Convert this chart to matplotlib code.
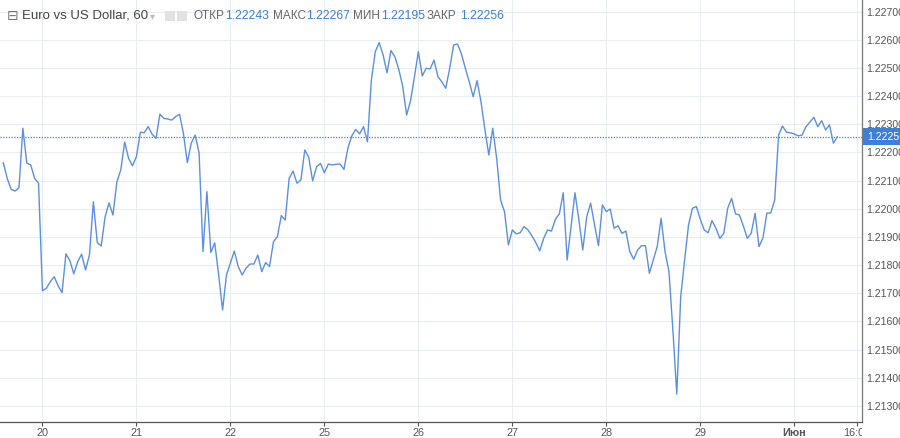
import matplotlib
matplotlib.use("Agg")
import matplotlib.pyplot as plt
import numpy as np
from matplotlib.patches import Rectangle
from matplotlib.transforms import blended_transform_factory

# hourly EURUSD closes (first bar is 14:00 on the 19th)
prices = [
    1.22164, 1.22108, 1.22069, 1.22063, 1.22075, 1.22286, 1.22162, 1.22156, 1.22108, 1.22091,
    1.21709, 1.21718, 1.21741, 1.21759, 1.21727, 1.21702, 1.21840, 1.21816, 1.21769, 1.21812,
    1.21839, 1.21783, 1.21836, 1.22025, 1.21880, 1.21868, 1.21971, 1.22021, 1.21978, 1.22095,
    1.22138, 1.22237, 1.22179, 1.22153, 1.22185, 1.22272, 1.22270, 1.22292, 1.22265, 1.22250,
    1.22336, 1.22321, 1.22319, 1.22315, 1.22327, 1.22336, 1.22268, 1.22164, 1.22233, 1.22262,
    1.22199, 1.21848, 1.22061, 1.21845, 1.21879, 1.21765, 1.21641, 1.21765, 1.21807, 1.21850,
    1.21795, 1.21765, 1.21789, 1.21804, 1.21804, 1.21836, 1.21777, 1.21809, 1.21795, 1.21883,
    1.21901, 1.21976, 1.21960, 1.22108, 1.22134, 1.22091, 1.22102, 1.22209, 1.22183, 1.22099,
    1.22149, 1.22161, 1.22128, 1.22159, 1.22156, 1.22158, 1.22159, 1.22140, 1.22215, 1.22259,
    1.22282, 1.22266, 1.22292, 1.22238, 1.22457, 1.22558, 1.22590, 1.22546, 1.22483, 1.22562,
    1.22540, 1.22495, 1.22436, 1.22333, 1.22383, 1.22469, 1.22558, 1.22472, 1.22499, 1.22497,
    1.22528, 1.22469, 1.22451, 1.22428, 1.22499, 1.22582, 1.22585, 1.22550, 1.22499, 1.22451,
    1.22398, 1.22455, 1.22380, 1.22280, 1.22191, 1.22286, 1.22179, 1.22031, 1.21990, 1.21872,
    1.21925, 1.21911, 1.21915, 1.21937, 1.21925, 1.21904, 1.21880, 1.21851, 1.21895, 1.21925,
    1.21921, 1.21963, 1.21982, 1.22057, 1.21818, 1.21939, 1.22057, 1.21960, 1.21854, 1.21972,
    1.22020, 1.21943, 1.21869, 1.22014, 1.21990, 1.21999, 1.21931, 1.21940, 1.21913, 1.21921,
    1.21848, 1.21821, 1.21854, 1.21869, 1.21869, 1.21771, 1.21818, 1.21866, 1.21966, 1.21848,
    1.21777, 1.21570, 1.21342, 1.21688, 1.21818, 1.21943, 1.22002, 1.22008, 1.21963, 1.21925,
    1.21915, 1.21958, 1.21931, 1.21895, 1.21913, 1.22002, 1.22037, 1.21982, 1.21978, 1.21939,
    1.21895, 1.21913, 1.21984, 1.21866, 1.21896, 1.21985, 1.21985, 1.22031, 1.22262, 1.22294,
    1.22272, 1.22270, 1.22266, 1.22259, 1.22262, 1.22292, 1.22308, 1.22325, 1.22292, 1.22313,
    1.22280, 1.22298, 1.22233, 1.22256,
]

last_price = 1.22256

# x axis: hour index of each label
tick_hours = [10, 34, 58, 82, 106, 130, 154, 178, 202, 218]
tick_labels = ["20", "21", "22", "25", "26", "27", "28", "29", "Июн", "16:00"]

# y axis
price_ticks = [1.213, 1.214, 1.215, 1.216, 1.217, 1.218, 1.219, 1.220,
               1.221, 1.222, 1.223, 1.224, 1.225, 1.226, 1.227]
price_labels = ["1.21300", "1.21400", "1.21500", "1.21600", "1.21700", "1.21800", "1.21900",
                "1.22000", "1.22100", "1.22200", "1.22300", "1.22400", "1.22500", "1.22600",
                "1.22700"]

# legend header
title = "Euro vs US Dollar, 60"
ohlc_names = ["ОТКР", "МАКС", "МИН", "ЗАКР"]
ohlc_values = ["1.22243", "1.22267", "1.22195", "1.22256"]

plt.rcParams["font.family"] = ["Liberation Sans", "DejaVu Sans"]

W, H = 900, 438
fig = plt.figure(figsize=(W / 100, H / 100), dpi=100)
fig.patch.set_facecolor("white")
ax = fig.add_axes([0, 16 / H, 862 / W, 422 / H])

x = np.arange(len(prices))
ax.plot(x, prices, color="#5b8fe3", lw=1.0, zorder=3)
ax.axhline(last_price, color="#3d7fd9", lw=0.9, ls=(0, (1, 1.2)), zorder=2)

ax.set_xlim(-0.84, 219.3)
ax.set_ylim(1.21243, 1.227415)

ax.set_xticks(tick_hours)
ax.set_xticklabels(tick_labels)
ax.set_yticks(price_ticks)
ax.set_yticklabels(price_labels)
ax.yaxis.tick_right()
ax.grid(True, color="#e9eef3", lw=0.8, zorder=0)

ax.tick_params(axis="x", length=3, width=0.8, color="#555555", pad=1,
               labelsize=7.8, labelcolor="#555555")
ax.tick_params(axis="y", length=0, pad=3.3, labelsize=7.6, labelcolor="#555555")
for lbl in ax.get_xticklabels():
    if lbl.get_text() == "Июн":
        lbl.set_fontweight("bold")
    if lbl.get_text() == "16:00":
        lbl.set_clip_on(True)
        lbl.set_clip_box(matplotlib.transforms.Bbox([[0, 0], [862, H]]))

for side in ["top", "left"]:
    ax.spines[side].set_visible(False)
ax.spines["bottom"].set_color("#555555")
ax.spines["right"].set_color("#777777")
ax.spines["bottom"].set_linewidth(0.9)
ax.spines["right"].set_linewidth(0.9)

# blue label with the last price on the scale
trans = blended_transform_factory(fig.transFigure, ax.transData)
ax.text(867 / W, last_price, ohlc_values[3], transform=trans, ha="left", va="center",
        fontsize=7.6, color="white", clip_on=False, zorder=5,
        bbox=dict(boxstyle="square,pad=0.35", fc="#3d7fd9", ec="none"))

# header line
ty = (H - 16) / H
fig.text(7 / W, ty, "⊟", fontsize=10, color="#777777", va="center", ha="left",
         family="DejaVu Sans")
fig.text(22 / W, ty, title, fontsize=9.5, color="#444444", va="center", ha="left")
fig.text(150 / W, ty, "▾", fontsize=7, color="#bbbbbb", va="center", ha="left",
         family="DejaVu Sans")
for gx in [165, 177]:
    fig.patches.append(Rectangle((gx / W, (H - 21) / H), 10 / W, 10 / H,
                                 transform=fig.transFigure, fc="#e2e2e2", ec="none"))
name_x = [194, 273, 353, 427]
value_x = [225, 306, 381, 460]
for nx, vx, name, val in zip(name_x, value_x, ohlc_names, ohlc_values):
    fig.text(nx / W, ty, name, fontsize=8.5, color="#666666", va="center", ha="left")
    fig.text(vx / W, ty, val, fontsize=8.8, color="#3d7fd9", va="center", ha="left")

fig.savefig("out.png", dpi=100)
